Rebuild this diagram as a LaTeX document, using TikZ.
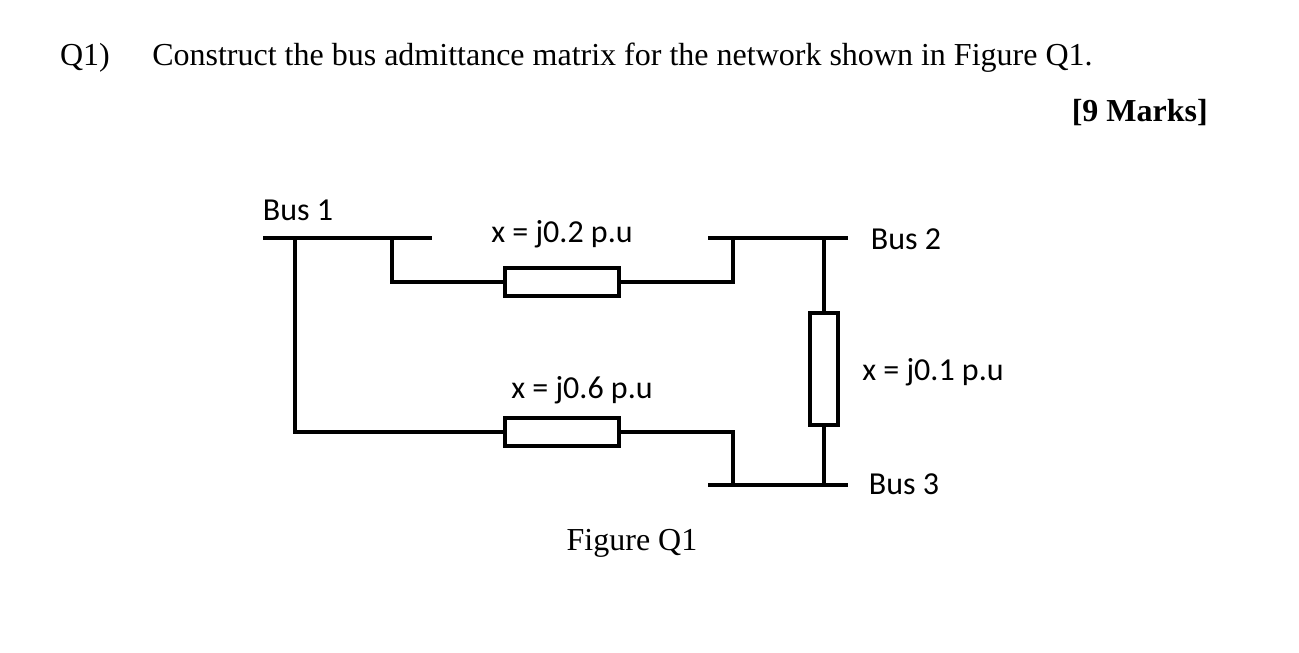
\documentclass[tikz,border=0pt]{standalone}
\usepackage{fontspec}
\setmainfont{Liberation Serif}
\newfontfamily\carfont{Carlito}
\begin{document}
\begin{tikzpicture}[x=0.75pt,y=-0.75pt,
  w/.style={line width=2.6pt},
  res/.style={draw,line width=2.6pt,minimum width=85.5pt,minimum height=21pt,inner sep=0pt},
  vres/.style={draw,line width=2.6pt,minimum width=21pt,minimum height=84pt,inner sep=0pt},
  lab/.style={font=\carfont\fontsize{24}{26}\selectfont,inner sep=0pt},
  tt/.style={font=\fontsize{24}{27}\selectfont,inner sep=0pt}]
\useasboundingbox (0,0) rectangle (1299,653);
\node[tt] (q) at (85,58) {Q1)};
\node[tt,anchor=west] (qt) at (152,58) {Construct the bus admittance matrix for the network shown in Figure Q1.};
\node[tt,anchor=east] (mk) at (1208,113) {\bfseries [9 Marks]};
% buses
\coordinate (b1l) at (263,238); \coordinate (b1r) at (432,238);
\coordinate (b2l) at (708,238); \coordinate (b2r) at (848,238);
\coordinate (b3l) at (708,485); \coordinate (b3r) at (848,485);
\draw[w] (b1l) -- (b1r); \draw[w] (b2l) -- (b2r); \draw[w] (b3l) -- (b3r);
\node[res] (r12) at (562,282) {};
\node[res] (r13) at (562,432) {};
\node[vres] (r23) at (824,369) {};
\draw[w] (392,238) |- (r12.west);
\draw[w] (r12.east) -| (733,238);
\draw[w] (295,238) |- (r13.west);
\draw[w] (r13.east) -| (733,485);
\draw[w] (824,238) -- (r23.north);
\draw[w] (r23.south) -- (824,485);
\node[lab] (l1) at (298,210) {Bus 1};
\node[lab] (l2) at (906,239) {Bus 2};
\node[lab] (l3) at (904,484) {Bus 3};
\node[lab] (x12) at (562,234) {x = j0.2 p.u};
\node[lab] (x23) at (933,372) {x = j0.1 p.u};
\node[lab] (x13) at (582,390) {x = j0.6 p.u};
\node[tt] (fig) at (632,543) {Figure Q1};
\end{tikzpicture}
\end{document}
